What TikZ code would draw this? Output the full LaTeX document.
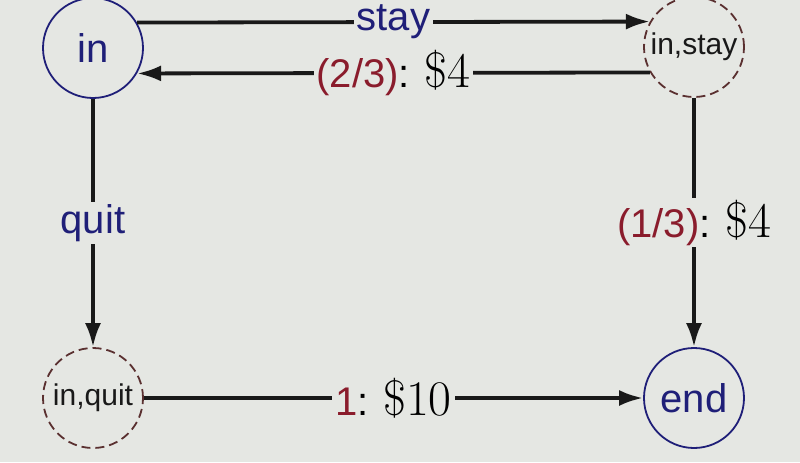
\documentclass[tikz,border=0pt]{standalone}
\usepackage{fontspec}
\setmainfont{Liberation Sans}
\usetikzlibrary{arrows.meta}
\definecolor{bg}{HTML}{E5E7E3}
\definecolor{navy}{HTML}{1F1F78}
\definecolor{dred}{HTML}{8A1C2C}
\definecolor{dashc}{HTML}{5A3030}
\begin{document}
\begin{tikzpicture}[x=0.5pt,y=-0.5pt,
  state/.style={circle,draw=navy,line width=0.9pt,minimum size=50pt,inner sep=0pt,text=navy,font=\fontsize{20}{24}\selectfont},
  chance/.style={circle,draw=dashc,line width=0.9pt,dash pattern=on 4.5pt off 2.5pt,minimum size=50pt,inner sep=0pt,text=black!90,font=\fontsize{15}{18}\selectfont},
  arr/.style={line width=1.9pt,draw=black!90,-{Latex[length=12pt,width=8pt]}},
  lab/.style={fill=bg,inner xsep=1.5pt,inner ysep=1pt,font=\fontsize{20}{24}\selectfont},
  money/.style={font=\fontsize{24}{28}\selectfont}]
\fill[bg] (0,0) rectangle (800,462);
\useasboundingbox (0,0) rectangle (800,462);
\node[state]  (in)     at (93,48)   {in};
\node[chance] (instay) at (694,47)  {in,stay};
\node[chance] (inquit) at (93,398)  {in,quit};
\node[state]  (end)    at (694,398) {end};
\draw[arr] (in.30) -- node[lab,text=navy]{stay} (instay.150);
\draw[arr] (instay.-150) -- node[lab]{\textcolor{dred}{(2/3)}: {\fontsize{24}{28}\selectfont$\$4$}} (in.-30);
\draw[arr] (in) -- node[lab,text=navy]{quit} (inquit);
\draw[arr] (instay) -- node[lab]{\textcolor{dred}{(1/3)}: {\fontsize{24}{28}\selectfont$\$4$}} (end);
\draw[arr] (inquit) -- node[lab]{\textcolor{dred}{1}: {\fontsize{24}{28}\selectfont$\$10$}} (end);
\end{tikzpicture}
\end{document}
